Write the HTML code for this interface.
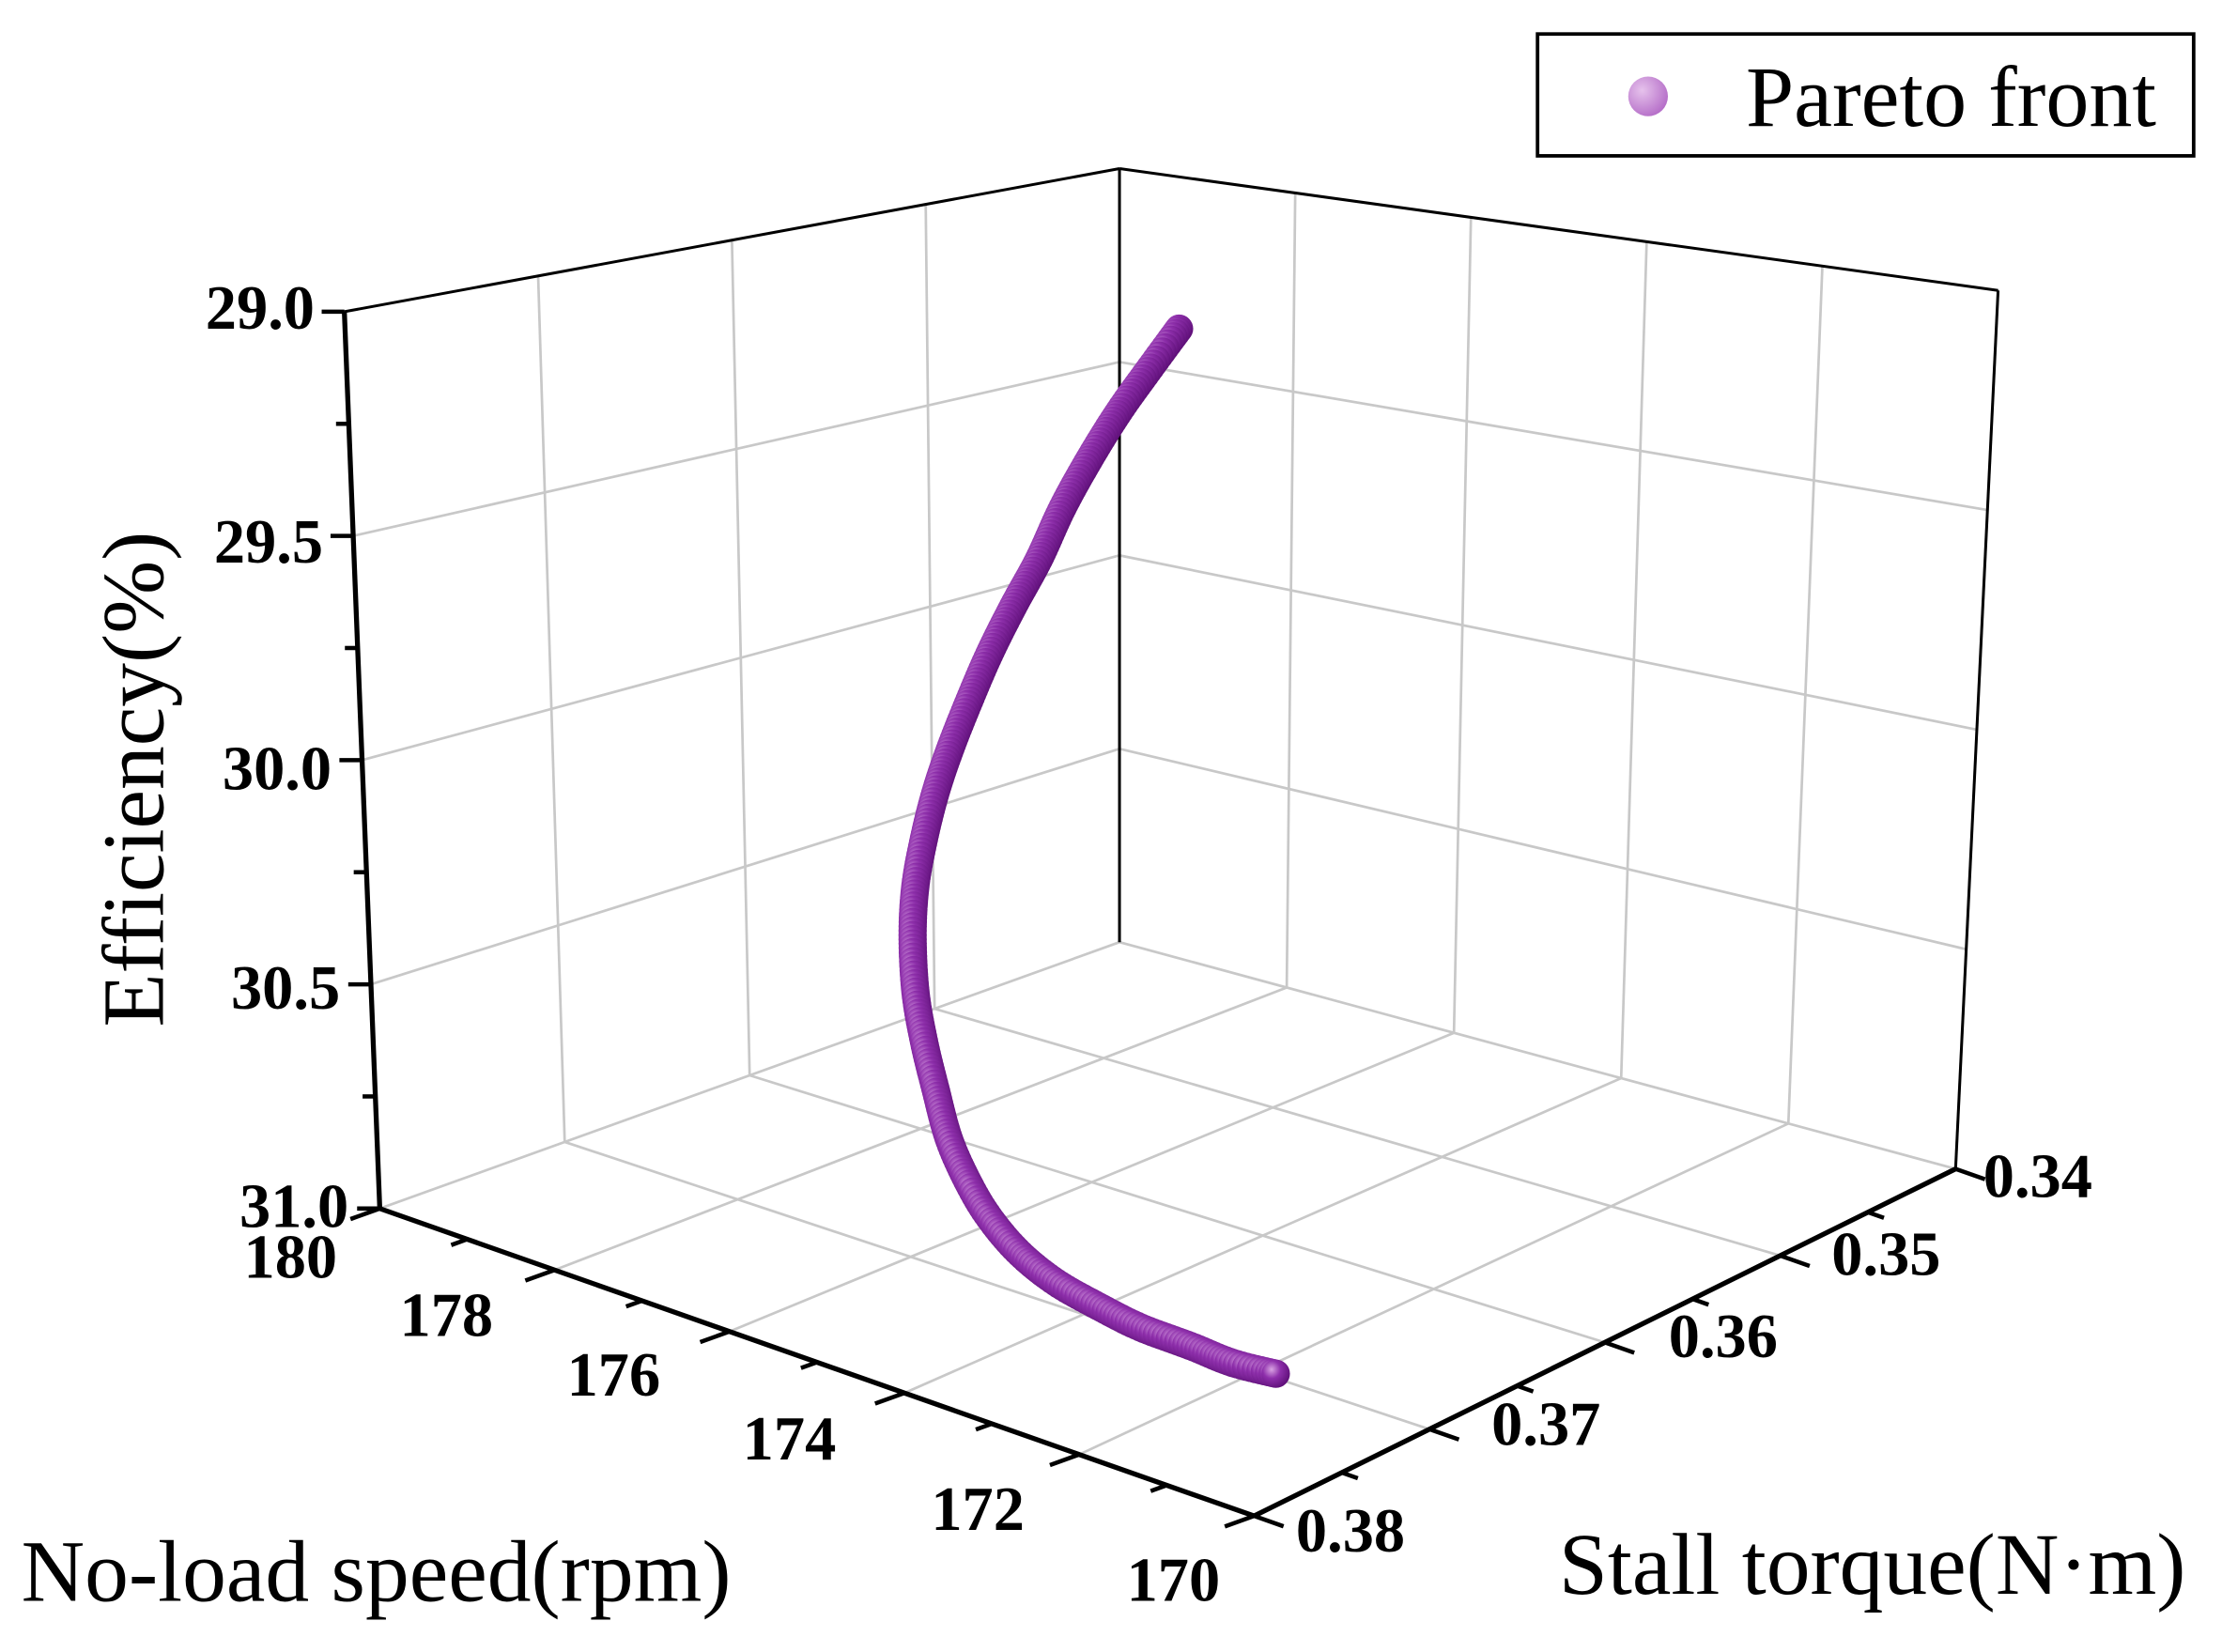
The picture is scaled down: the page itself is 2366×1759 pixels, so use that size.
<!DOCTYPE html>
<html><head><meta charset="utf-8">
<style>
html,body{margin:0;padding:0;background:#fff;}
svg{display:block;}
text{font-family:"Liberation Serif",serif;fill:#000;}
.tk{font-weight:bold;font-size:44px;}
.ttl{font-size:62px;}
</style></head>
<body>
<svg id="s" width="2366" height="1759" viewBox="0 0 1568 1166" preserveAspectRatio="none" xmlns="http://www.w3.org/2000/svg">
<defs>
<radialGradient id="g" cx="0.35" cy="0.35" r="0.7">
<stop offset="0" stop-color="#d9a3e3"/>
<stop offset="0.45" stop-color="#8e2fab"/>
<stop offset="1" stop-color="#5e0f78"/>
</radialGradient>
<radialGradient id="gl" cx="0.35" cy="0.35" r="0.7">
<stop offset="0" stop-color="#e6c2ec"/>
<stop offset="1" stop-color="#b56ec8"/>
</radialGradient>
</defs>
<g id="grid"></g>
<g id="axes"></g>
<g id="data"></g>
<rect x="1085" y="24" width="463" height="86" fill="#fff" stroke="#000" stroke-width="2.5"/>
<circle cx="1163" cy="68" r="14" fill="url(#gl)"/>
<text x="1232" y="89" class="ttl" style="font-size:61px">Pareto front</text>
<text class="tk" x="222" y="232" text-anchor="end">29.0</text>
<text class="tk" x="228" y="397" text-anchor="end">29.5</text>
<text class="tk" x="234" y="557" text-anchor="end">30.0</text>
<text class="tk" x="240" y="712" text-anchor="end">30.5</text>
<text class="tk" x="246" y="866" text-anchor="end">31.0</text>
<text class="tk" x="205" y="902" text-anchor="middle">180</text>
<text class="tk" x="315" y="943" text-anchor="middle">178</text>
<text class="tk" x="433" y="985" text-anchor="middle">176</text>
<text class="tk" x="557" y="1030" text-anchor="middle">174</text>
<text class="tk" x="690" y="1080" text-anchor="middle">172</text>
<text class="tk" x="828" y="1130" text-anchor="middle">170</text>
<text class="tk" x="1438" y="845" text-anchor="middle">0.34</text>
<text class="tk" x="1331" y="900" text-anchor="middle">0.35</text>
<text class="tk" x="1216" y="958" text-anchor="middle">0.36</text>
<text class="tk" x="1091" y="1020" text-anchor="middle">0.37</text>
<text class="tk" x="953" y="1095" text-anchor="middle">0.38</text>
<text class="ttl" transform="translate(115,550) rotate(-90)" text-anchor="middle">Efficiency(%)</text>
<text class="ttl" x="15" y="1130">No-load speed(rpm)</text>
<text class="ttl" x="1100" y="1125">Stall torque(N·m)</text>
</svg>
<script>
(function(){
var NS="http://www.w3.org/2000/svg";
var L=[268,853],F=[885,1070],R=[1380,825],B=[790,665];
var Lt=[243,220],Bt=[790,119],Rt=[1410,205],Ft=[Lt[0]+Rt[0]-Bt[0],Lt[1]+Rt[1]-Bt[1]];
function bl(a,b,c,d,u,v){
 return [a[0]*(1-u)*(1-v)+b[0]*u*(1-v)+c[0]*u*v+d[0]*(1-u)*v,
         a[1]*(1-u)*(1-v)+b[1]*u*(1-v)+c[1]*u*v+d[1]*(1-u)*v];}
function P(u,v,w){var f=bl(L,F,R,B,u,v),t=bl(Lt,Ft,Rt,Bt,u,v);return [f[0]+w*(t[0]-f[0]),f[1]+w*(t[1]-f[1])];}
function line(g,p,q,col,sw){var e=document.createElementNS(NS,"line");e.setAttribute("x1",p[0]);e.setAttribute("y1",p[1]);e.setAttribute("x2",q[0]);e.setAttribute("y2",q[1]);e.setAttribute("stroke",col);e.setAttribute("stroke-width",sw);g.appendChild(e);}
var G=document.getElementById("grid"),A=document.getElementById("axes"),D=document.getElementById("data");
var gc="#c8c8c8",gw=1.8,i;
for(i=0;i<=4;i++){var v=i/4;
 line(G,P(0,v,0),P(0,v,1),gc,gw);
 line(G,P(0,v,0),P(1,v,0),gc,gw);
}
for(i=0;i<=5;i++){var u=i/5;
 line(G,P(u,1,0),P(u,1,1),gc,gw);
 line(G,P(u,0,0),P(u,1,0),gc,gw);
}
for(i=1;i<4;i++){var w=i/4;
 line(G,P(0,0,w),P(0,1,w),gc,gw);
 line(G,P(0,1,w),P(1,1,w),gc,gw);
}
line(A,P(0,0,1),P(0,1,1),"#000",2);
line(A,P(0,1,1),P(1,1,1),"#000",2);
line(A,P(0,1,0),P(0,1,1),"#000",2);
line(A,P(1,1,0),P(1,1,1),"#000",2);
line(A,P(0,0,0),P(0,0,1),"#000",3.5);
line(A,P(0,0,0),P(1,0,0),"#000",3.5);
line(A,P(1,0,0),P(1,1,0),"#000",3.5);
for(i=0;i<=8;i++){var w=i/8,p=P(0,0,w),len=(i%2==0)?16:9;line(A,p,[p[0]-len,p[1]],"#000",3);}
var dv=[L[0]-B[0],L[1]-B[1]],n=Math.hypot(dv[0],dv[1]);dv=[dv[0]/n,dv[1]/n];
for(i=0;i<=10;i++){var p=P(i/10,0,0),len=(i%2==0)?22:12;line(A,p,[p[0]+dv[0]*len,p[1]+dv[1]*len],"#000",3);}
var du=[F[0]-L[0],F[1]-L[1]];n=Math.hypot(du[0],du[1]);du=[du[0]/n,du[1]/n];
for(i=0;i<=8;i++){var p=P(1,i/8,0),len=(i%2==0)?22:12;line(A,p,[p[0]+du[0]*len,p[1]+du[1]*len],"#000",3);}
var pts=[[832,232],[810,262],[790,290],[770,322],[750,358],[733,395],[715,428],[698,462],[683,497],[670,530],[660,560],[652,592],[646,625],[644,660],[646,700],[652,735],[660,768],[670,805],[685,838],[700,862],[720,885],[745,905],[775,922],[805,937],[840,950],[870,962],[902,970]];
function cr(p0,p1,p2,p3,t){var t2=t*t,t3=t2*t;return [0.5*(2*p1[0]+(-p0[0]+p2[0])*t+(2*p0[0]-5*p1[0]+4*p2[0]-p3[0])*t2+(-p0[0]+3*p1[0]-3*p2[0]+p3[0])*t3),0.5*(2*p1[1]+(-p0[1]+p2[1])*t+(2*p0[1]-5*p1[1]+4*p2[1]-p3[1])*t2+(-p0[1]+3*p1[1]-3*p2[1]+p3[1])*t3)];}
for(i=0;i<pts.length-1;i++){var p0=pts[Math.max(i-1,0)],p1=pts[i],p2=pts[i+1],p3=pts[Math.min(i+2,pts.length-1)];
 var segLen=Math.hypot(p2[0]-p1[0],p2[1]-p1[1]),k=Math.max(2,Math.round(segLen/3));
 for(var j=0;j<k;j++){var q=cr(p0,p1,p2,p3,j/k);var c=document.createElementNS(NS,"circle");
  c.setAttribute("cx",q[0]);c.setAttribute("cy",q[1]);c.setAttribute("r",10);c.setAttribute("fill","url(#g)");D.appendChild(c);}
}
})();
</script>
</body></html>
